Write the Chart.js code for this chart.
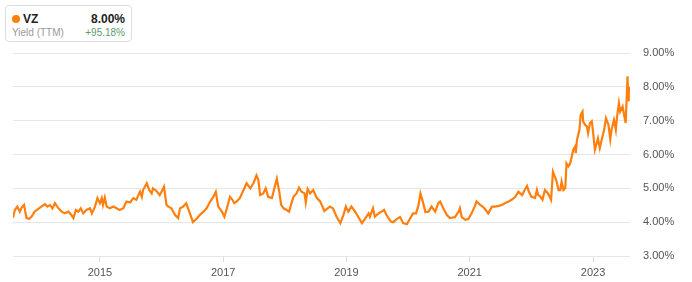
<!DOCTYPE html>
<html>
<head>
<meta charset="utf-8">
<script src="https://cdn.jsdelivr.net/npm/chart.js@4"></script>
<style>
  html, body { margin:0; padding:0; background:#fff; }
  body { width:692px; height:282px; position:relative; overflow:hidden; font-family: Arial, "Liberation Sans", sans-serif; }
  #wrap { position:absolute; left:0; top:0; width:692px; height:282px; }
  #legend { position:absolute; left:5px; top:5px; width:127px; height:37px; border:1px solid #dedede; border-radius:4px; background:#fff; box-sizing:border-box; }
  #legend .dot { position:absolute; left:6px; top:9px; width:8px; height:8px; border-radius:50%; background:#ff7f0e; }
  #legend .name { position:absolute; left:17px; top:6px; font-size:12px; font-weight:bold; color:#222; }
  #legend .val { position:absolute; right:6px; top:6px; font-size:12px; font-weight:bold; color:#222; }
  #legend .sub { position:absolute; left:6px; top:21px; font-size:10px; color:#999; }
  #legend .chg { position:absolute; right:6px; top:21px; font-size:10px; color:#5c9a6c; }
</style>
</head>
<body>
<div id="wrap"><canvas id="c" width="692" height="282"></canvas></div>
<div id="legend">
  <div class="dot"></div>
  <div class="name">VZ</div>
  <div class="val">8.00%</div>
  <div class="sub">Yield (TTM)</div>
  <div class="chg">+95.18%</div>
</div>
<script>
const seriesName = "VZ";
const latestValue = "8.00%";
const changeLabel = "+95.18%";
const xTickYears = [2015, 2017, 2019, 2021, 2023];
const yTicks = [3, 4, 5, 6, 7, 8, 9];

const dates = [
2013.59,2013.62,2013.66,2013.70,2013.73,2013.77,2013.79,2013.81,2013.85,2013.89,
2013.94,2014.00,2014.05,2014.11,2014.15,2014.19,2014.23,2014.27,2014.32,2014.38,
2014.43,2014.49,2014.53,2014.57,2014.61,2014.65,2014.69,2014.73,2014.78,2014.84,
2014.87,2014.92,2014.96,2015.00,2015.03,2015.05,2015.08,2015.11,2015.16,2015.22,
2015.27,2015.32,2015.38,2015.43,2015.49,2015.54,2015.59,2015.65,2015.68,2015.70,
2015.76,2015.80,2015.84,2015.86,2015.92,2015.97,2016.02,2016.04,2016.08,2016.11,
2016.16,2016.22,2016.27,2016.30,2016.35,2016.40,2016.43,2016.47,2016.51,2016.57,
2016.62,2016.68,2016.73,2016.79,2016.84,2016.88,2016.92,2016.98,2017.02,2017.06,
2017.11,2017.15,2017.18,2017.22,2017.27,2017.33,2017.38,2017.44,2017.49,2017.54,
2017.57,2017.60,2017.65,2017.69,2017.73,2017.79,2017.83,2017.87,2017.91,2017.94,
2017.98,2018.03,2018.07,2018.10,2018.14,2018.19,2018.23,2018.27,2018.32,2018.34,
2018.37,2018.41,2018.46,2018.52,2018.57,2018.60,2018.64,2018.73,2018.78,2018.84,
2018.90,2018.95,2018.99,2019.03,2019.08,2019.14,2019.19,2019.25,2019.30,2019.36,
2019.38,2019.43,2019.46,2019.52,2019.57,2019.61,2019.65,2019.72,2019.76,2019.82,
2019.87,2019.92,2019.98,2020.03,2020.08,2020.13,2020.17,2020.20,2020.24,2020.28,
2020.33,2020.38,2020.44,2020.49,2020.52,2020.57,2020.63,2020.68,2020.76,2020.82,
2020.84,2020.87,2020.93,2020.98,2021.03,2021.08,2021.11,2021.17,2021.21,2021.25,
2021.30,2021.36,2021.41,2021.47,2021.52,2021.57,2021.63,2021.68,2021.74,2021.79,
2021.85,2021.89,2021.93,2021.96,2022.00,2022.06,2022.09,2022.11,2022.14,2022.18,
2022.22,2022.27,2022.32,2022.35,2022.39,2022.41,2022.44,2022.47,2022.49,2022.52,
2022.55,2022.57,2022.60,2022.63,2022.65,2022.68,2022.71,2022.72,2022.74,2022.78,
2022.80,2022.83,2022.84,2022.87,2022.90,2022.92,2022.95,2022.98,2023.00,2023.03,
2023.06,2023.08,2023.11,2023.14,2023.18,2023.21,2023.25,2023.28,2023.30,2023.34,
2023.37,2023.39,2023.42,2023.44,2023.48,2023.52,2023.53,2023.56,2023.57,2023.58,
2023.60
];

const yields = [
4.13,4.36,4.46,4.31,4.43,4.51,4.30,4.12,4.10,4.16,
4.31,4.39,4.46,4.53,4.46,4.51,4.41,4.56,4.43,4.31,
4.26,4.31,4.23,4.12,4.36,4.31,4.41,4.26,4.36,4.41,
4.26,4.46,4.71,4.56,4.71,4.51,4.73,4.46,4.41,4.46,
4.41,4.36,4.41,4.61,4.58,4.71,4.66,4.90,4.75,4.95,
5.15,4.95,4.85,5.00,4.92,4.80,4.97,5.05,4.51,4.46,
4.41,4.21,4.12,4.41,4.46,4.56,4.41,4.21,4.00,4.10,
4.21,4.31,4.41,4.61,4.75,4.90,4.46,4.31,4.16,4.41,
4.75,4.66,4.56,4.61,4.71,4.95,5.15,5.00,5.15,5.38,
5.25,4.80,4.85,5.00,4.75,4.71,5.00,5.28,4.90,4.51,
4.41,4.36,4.31,4.51,4.75,4.85,5.02,4.90,4.85,4.59,
4.98,4.85,4.95,4.71,4.62,4.51,4.33,4.46,4.41,4.16,
3.97,4.21,4.46,4.31,4.46,4.31,4.16,3.97,4.10,4.26,
4.16,4.41,4.16,4.26,4.31,4.36,4.21,4.02,4.00,4.10,
4.15,3.97,3.94,4.10,4.26,4.26,4.51,4.85,4.60,4.30,
4.31,4.46,4.31,4.56,4.61,4.41,4.21,4.12,4.15,4.31,
4.41,4.15,4.07,4.10,4.26,4.46,4.61,4.51,4.46,4.38,
4.26,4.46,4.46,4.48,4.51,4.56,4.61,4.66,4.75,4.90,
4.80,4.95,5.07,4.90,4.75,4.72,4.95,4.80,4.77,4.66,
4.95,4.85,4.66,5.49,5.30,5.20,4.95,4.95,5.20,4.95,
5.00,5.74,5.65,5.74,5.90,6.14,6.24,6.04,6.43,6.73,
7.17,7.27,6.98,6.88,6.83,6.63,6.93,6.98,6.68,6.14,
6.34,6.48,6.19,6.43,6.73,7.07,6.88,6.45,6.73,7.02,
6.73,7.12,7.52,7.27,7.42,7.02,6.93,8.31,7.61,7.80,
8.00
];

const points = dates.map((d, i) => ({ x: d, y: yields[i] }));

new Chart(document.getElementById('c'), {
  type: 'line',
  data: {
    datasets: [{
      label: seriesName,
      data: points,
      borderColor: '#ff7f0e',
      backgroundColor: '#ff7f0e',
      borderWidth: 2.2,
      pointRadius: 0,
      tension: 0,
      fill: false
    }]
  },
  options: {
    responsive: false,
    animation: false,
    devicePixelRatio: 1,
    layout: { padding: { left: 13, right: 0, top: 53, bottom: 0 } },
    plugins: { legend: { display: false }, tooltip: { enabled: false } },
    scales: {
      x: {
        type: 'linear',
        min: dates[0],
        max: dates[dates.length - 1],
        afterBuildTicks: (s) => { s.ticks = xTickYears.map(v => ({ value: v })); },
        afterFit: (s) => { s.height = 26; },
        grid: { drawOnChartArea: false, drawTicks: true, tickLength: 6, color: '#dddddd' },
        border: { display: false },
        ticks: {
          autoSkip: false, maxRotation: 0, padding: 4,
          color: '#555', font: { family: 'Arial, "Liberation Sans", sans-serif', size: 11 },
          callback: (v) => String(v)
        }
      },
      y: {
        position: 'right',
        min: 3, max: 9,
        afterBuildTicks: (s) => { s.ticks = yTicks.map(v => ({ value: v })); },
        afterFit: (s) => { s.width = 62; },
        grid: { drawTicks: false, color: '#e6e6e6', lineWidth: 1 },
        border: { display: false },
        ticks: {
          padding: 13,
          color: '#555', font: { family: 'Arial, "Liberation Sans", sans-serif', size: 11 },
          callback: (v) => v.toFixed(2) + '%'
        }
      }
    }
  }
});
</script>
</body>
</html>
